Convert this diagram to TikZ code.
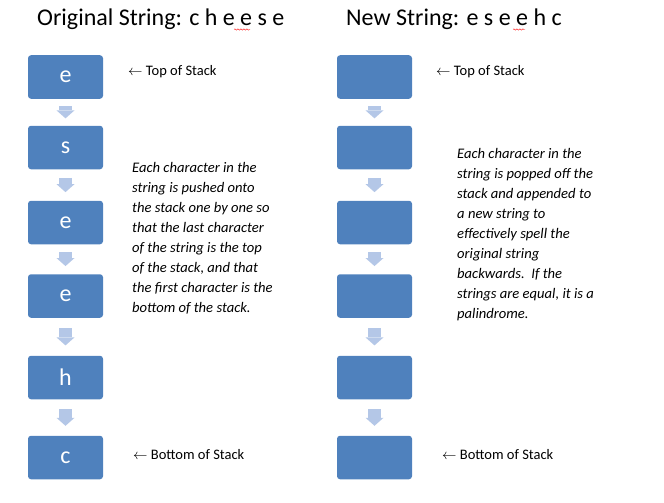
\documentclass[tikz,border=0pt]{standalone}
\usepackage{fontspec}
\setmainfont{Carlito}
\usetikzlibrary{arrows.meta,calc,decorations.pathmorphing}

\definecolor{boxblue}{RGB}{79,129,189}
\definecolor{arrowblue}{RGB}{180,199,231}

\begin{document}
\begin{tikzpicture}[x=1pt,y=-1pt,
    stackbox/.style={rectangle,rounded corners=3pt,fill=boxblue,text=white,
        minimum width=75pt,minimum height=43.5pt,inner sep=0pt,
        font=\fontsize{24}{24}\selectfont},
    stackarrow/.style={arrowblue,line width=13pt,
        -{Triangle[width=18pt,length=8pt,line width=0pt]}},
    note/.style={inner sep=0pt,font=\fontsize{14.5}{17}\selectfont},
    para/.style={inner sep=0pt,align=left,anchor=north west,
        font=\itshape\fontsize{14.6}{20}\selectfont},
    heading/.style={inner sep=0pt,anchor=base west,font=\fontsize{24}{30}\selectfont},
    squiggle/.style={red,decorate,decoration={snake,amplitude=0.7pt,segment length=3pt}}]
    \useasboundingbox (0,0) rectangle (664,503);
    \def\lx{65.5}
    \def\rx{374.5}

    % Headings
    \node[heading] (ltitle) at (37,26) {Original String: c h e e s e};
    \node[heading] (rtitle) at (346,26) {New String: e s e e h c};
    \draw[squiggle] (234,29.5) -- (250,29.5);
    \draw[squiggle] (513,29.5) -- (525,29.5);

    % Stacks
    \foreach \y/\ch [count=\i] in {77/e,147.5/s,222.5/e,296/e,377.5/h,457.5/c} {
        \node[stackbox] (L\i) at (\lx,\y) {\ch};
        \node[stackbox] (R\i) at (\rx,\y) {};
    }
    \foreach \i/\j in {1/2,2/3,3/4,4/5,5/6} {
        \draw[stackarrow] ($(L\i.south)!0.27!(L\j.north)$) -- ($(L\i.south)!0.73!(L\j.north)$);
        \draw[stackarrow] ($(R\i.south)!0.27!(R\j.north)$) -- ($(R\i.south)!0.73!(R\j.north)$);
    }

    % Labels
    \node[note,anchor=west] (ltop) at (128,72) {$\leftarrow$ Top of Stack};
    \node[note,anchor=west] (rtop) at (436,72) {$\leftarrow$ Top of Stack};
    \node[note,anchor=west] (lbot) at (133,455) {$\leftarrow$ Bottom of Stack};
    \node[note,anchor=west] (rbot) at (442,455) {$\leftarrow$ Bottom of Stack};

    % Explanations
    \node[para] (push) at (132,162) {Each character in the\\ string is pushed onto\\
        the stack one by one so\\ that the last character\\ of the string is the top\\
        of the stack, and that\\ the first character is the\\ bottom of the stack.};
    \node[para] (pop) at (457,148) {Each character in the\\ string is popped off the\\
        stack and appended to\\ a new string to\\ effectively spell the\\
        original string\\ backwards.\ \ If the\\ strings are equal, it is a\\ palindrome.};
\end{tikzpicture}
\end{document}
